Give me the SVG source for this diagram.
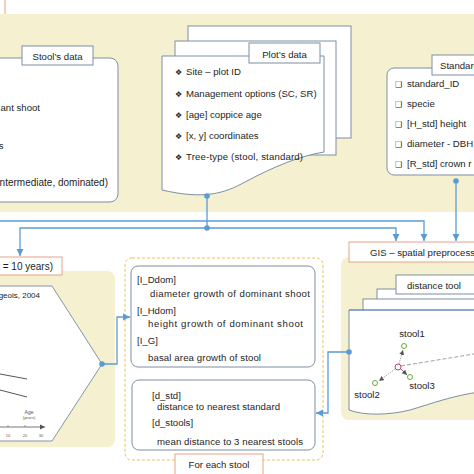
<svg xmlns="http://www.w3.org/2000/svg" width="474" height="474" viewBox="0 0 474 474">
<defs>
<style>
text{font-family:"Liberation Sans",Arial,sans-serif;fill:#1e1e1e;font-size:9.6px}
.box{fill:#fff;stroke:#7d8fa3;stroke-width:1}
.tab{fill:#fff;stroke:#7d8fa3;stroke-width:1}
.org{fill:#fff;stroke:#e8a283;stroke-width:1}
.bg{fill:#f5f0cf}
.con{fill:none;stroke:#5b9bd5;stroke-width:1.3}
.dot{fill:#5b9bd5}
.sym{font-family:"DejaVu Sans",sans-serif;font-size:8px}
.small{font-size:5px;fill:#555}
</style>
<marker id="ah" markerWidth="8" markerHeight="8" refX="7" refY="4" orient="auto" markerUnits="userSpaceOnUse">
<path d="M0,0.5 L7,4 L0,7.5 z" fill="#5b9bd5"/>
</marker>
<marker id="sa" markerWidth="6" markerHeight="6" refX="5" refY="3" orient="auto" markerUnits="userSpaceOnUse">
<path d="M0,0.5 L5,3 L0,5.5 z" fill="#555"/>
</marker>
</defs>
<rect width="474" height="474" fill="#fff"/>

<!-- top-left orange box -->
<rect class="org" x="-10" y="-5" width="15" height="22"/>

<!-- top beige band -->
<rect class="bg" x="0" y="14" width="474" height="198"/>

<!-- Stool's data -->
<g id="stools-data">
<rect class="box" x="-20" y="58" width="138" height="144" rx="8"/>
<rect class="tab" x="22" y="46" width="71" height="19"/>
<text x="57.5" y="60" text-anchor="middle">Stool’s data</text>
<text x="40" y="111" text-anchor="end">ant shoot</text>
<text x="3.5" y="149" text-anchor="end">s</text>
<text x="108" y="186" text-anchor="end" style="font-size:10px">ntermediate, dominated)</text>
</g>

<!-- Plot's data -->
<g id="plots-data">
<rect class="box" x="188" y="26" width="163" height="112"/>
<rect class="box" x="175" y="41" width="161" height="114"/>
<path class="box" d="M162,56 H324 V152 C300,156 275,166 245,182 C225,193 205,200 162,190 Z"/>
<rect class="tab" x="249" y="43" width="71" height="20"/>
<text x="284.5" y="58" text-anchor="middle">Plot’s data</text>
<text class="sym" x="175" y="75">❖</text><text x="186" y="75">Site – plot ID</text>
<text class="sym" x="175" y="97">❖</text><text x="186" y="97">Management options (SC, SR)</text>
<text class="sym" x="175" y="118">❖</text><text x="186" y="118">[age] coppice age</text>
<text class="sym" x="175" y="139">❖</text><text x="186" y="139">[x, y] coordinates</text>
<text class="sym" x="175" y="160">❖</text><text x="186" y="160" textLength="117">Tree-type (stool, standard)</text>
</g>

<!-- Standard's data -->
<g id="standards-data">
<rect class="box" x="387" y="68" width="110" height="107" rx="7"/>
<rect class="tab" x="432" y="55" width="60" height="20"/>
<text x="440" y="69">Standard</text>
<text class="sym" x="395" y="87">❑</text><text x="407" y="87">standard_ID</text>
<text class="sym" x="395" y="107">❑</text><text x="407" y="107">specie</text>
<text class="sym" x="395" y="127">❑</text><text x="407" y="127">[H_std] height</text>
<text class="sym" x="395" y="147">❑</text><text x="407" y="147">diameter - DBH</text>
<text class="sym" x="395" y="167">❑</text><text x="407" y="167">[R_std] crown r</text>
</g>

<!-- left panel -->
<g id="growth-model">
<rect class="bg" x="-10" y="271" width="125" height="176" rx="8"/>
<polygon points="-5,286 52,286 102,364 52,441 -5,441" fill="#fff" stroke="#8596a8" stroke-width="1"/>
<text x="40" y="298" text-anchor="end" style="font-size:8px">geois, 2004</text>
<path d="M0,374 L27,379 M0,390 L27,397" stroke="#555" stroke-width="1" fill="none"/>
<path d="M0,427 H45" stroke="#555" stroke-width="0.8" fill="none" marker-end="url(#sa)"/>
<path d="M8,425 V427 M25,425 V427 M41,425 V427" stroke="#555" stroke-width="0.6"/>
<text class="small" x="29" y="414" text-anchor="middle">Age</text>
<text class="small" x="29" y="419" text-anchor="middle" style="font-size:4px">(years)</text>
<text class="small" x="8" y="437" text-anchor="middle" style="font-size:4px">10</text>
<text class="small" x="25" y="437" text-anchor="middle" style="font-size:4px">20</text>
<text class="small" x="41" y="437" text-anchor="middle" style="font-size:4px">30</text>
</g>
<g id="period-label">
<rect class="org" x="-10" y="257" width="72" height="18"/>
<text x="53" y="270" text-anchor="end" style="font-size:10px">t = 10 years)</text>
</g>

<!-- dashed frame -->
<g id="each-stool">
<rect x="125" y="258" width="198" height="202" rx="7" fill="none" stroke="#e6c650" stroke-width="1" stroke-dasharray="3,2"/>
<g id="growth-vars">
<rect class="box" x="131" y="266" width="184" height="101" rx="7"/>
<text x="137" y="283">[I_Ddom]</text>
<text x="150" y="297" textLength="160">diameter growth of dominant shoot</text>
<text x="137" y="314">[I_Hdom]</text>
<text x="148" y="327" textLength="155">height growth of dominant shoot</text>
<text x="137" y="344">[I_G]</text>
<text x="148" y="361" textLength="113">basal area growth of stool</text>
</g>
<g id="distance-vars">
<rect class="box" x="132" y="380" width="183" height="70" rx="7"/>
<text x="152" y="399">[d_std]</text>
<text x="157" y="410" textLength="123">distance to nearest standard</text>
<text x="152" y="426">[d_stools]</text>
<text x="157" y="445" textLength="146">mean distance to 3 nearest stools</text>
</g>
<g id="for-each">
<rect class="org" x="175" y="454" width="88" height="30"/>
<text x="219" y="468" text-anchor="middle">For each stool</text>
</g>
</g>

<!-- right panel -->
<g id="gis">
<rect class="bg" x="341" y="257" width="150" height="163" rx="8"/>
<rect class="box" x="377" y="289" width="110" height="40"/>
<rect class="box" x="363" y="299" width="120" height="40"/>
<path d="M349,310 H480 V392 C455,395 430,404 410,410 C390,415 365,416 349,410 Z" fill="#fff" stroke="#7d8fa3" stroke-width="1"/>
<path d="M349,310 H480" stroke="#5b8cc0" stroke-width="1.2"/>
<rect class="tab" x="396" y="275" width="90" height="19"/>
<text x="407" y="289">distance tool</text>
<rect class="org" x="349" y="242" width="140" height="20"/>
<text x="370" y="256">GIS – spatial preprocess</text>
<path d="M401,366 L480,353" stroke="#888" stroke-width="0.8" stroke-dasharray="4,2" fill="none"/>
<path d="M399,364 L403,350" stroke="#888" stroke-width="0.7" stroke-dasharray="1.5,1" fill="none" marker-end="url(#sa)"/>
<path d="M395,369 L379,381" stroke="#888" stroke-width="0.7" stroke-dasharray="1.5,1" fill="none" marker-end="url(#sa)"/>
<path d="M401,369 L407,375" stroke="#555" stroke-width="0.8" fill="none" marker-end="url(#sa)"/>
<circle cx="398" cy="367" r="3" fill="#fff" stroke="#c94060" stroke-width="1"/>
<circle cx="404" cy="346" r="2.5" fill="#fff" stroke="#6aaa3a" stroke-width="1"/>
<circle cx="375" cy="383" r="2.5" fill="#fff" stroke="#6aaa3a" stroke-width="1"/>
<circle cx="410" cy="377" r="2.5" fill="#fff" stroke="#6aaa3a" stroke-width="1"/>
<text x="412" y="337" text-anchor="middle">stool1</text>
<text x="367" y="398" text-anchor="middle">stool2</text>
<text x="422" y="389" text-anchor="middle">stool3</text>
</g>

<!-- connectors -->
<g id="connectors">
<path class="con" d="M-5,221 H424 V241" marker-end="url(#ah)"/>
<path class="con" d="M207,196 V228"/>
<path class="con" d="M207,228 H20 V256" marker-end="url(#ah)"/>
<path class="con" d="M207,228 H396 V241" marker-end="url(#ah)"/>
<path class="con" d="M456,181 V241" marker-end="url(#ah)"/>
<path class="con" d="M102,364 H117 V317 H130" marker-end="url(#ah)"/>
<path class="con" d="M349,352 H328 V413 H316" marker-end="url(#ah)"/>
<circle class="dot" cx="207" cy="196" r="2.8"/>
<circle class="dot" cx="207" cy="228" r="2.8"/>
<circle class="dot" cx="456" cy="181" r="2.8"/>
<circle class="dot" cx="102" cy="364" r="2.8"/>
<circle class="dot" cx="349" cy="352" r="2.8"/>
</g>
</svg>
